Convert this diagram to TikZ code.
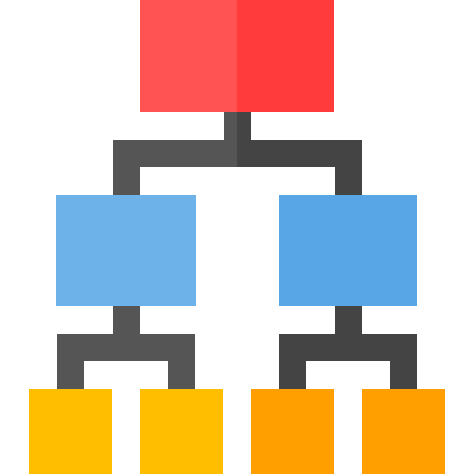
\documentclass[tikz,border=0pt]{standalone}
\usepackage{tikz}
\usetikzlibrary{positioning}
\definecolor{redlight}{HTML}{FF5252}
\definecolor{reddark}{HTML}{FF3B3B}
\definecolor{bluelight}{HTML}{6DB3EA}
\definecolor{bluedark}{HTML}{58A6E5}
\definecolor{yellowtile}{HTML}{FFBF00}
\definecolor{orangetile}{HTML}{FFA000}
\definecolor{graylight}{HTML}{555555}
\definecolor{graydark}{HTML}{444444}

\begin{document}
\begin{tikzpicture}[
    box/.style={inner sep=0pt, outer sep=0pt, minimum height=2.22cm},
    toptile/.style={inner sep=0pt, outer sep=0pt, minimum width=1.94cm, minimum height=2.24cm},
    leaf/.style={inner sep=0pt, outer sep=0pt, minimum width=1.66cm, minimum height=1.70cm},
    wire/.style={line width=0.54cm, line join=miter}
]

\useasboundingbox[fill=white] (0,0) rectangle (9.48,9.48);

% Top level
\node[toptile, fill=redlight] (rootl) at (3.77,8.36) {};
\node[toptile, fill=reddark, right=0cm of rootl] (rootr) {};

% Middle level
\node[box, fill=bluelight, minimum width=2.80cm] (left) at (2.52,4.47) {};
\node[box, fill=bluedark, minimum width=2.76cm, right=1.66cm of left] (right) {};

% Bottom level
\node[leaf, fill=yellowtile] (leafa) at (1.41,0.85) {};
\node[leaf, fill=yellowtile, right=0.56cm of leafa] (leafb) {};
\node[leaf, fill=orangetile, right=0.56cm of leafb] (leafc) {};
\node[leaf, fill=orangetile, right=0.56cm of leafc] (leafd) {};

% Connections
\begin{scope}
\clip (0,0) rectangle (4.74,9.48);
\draw[wire, graylight] (rootl.south east) -- ++(0,-0.83) -| (left.north);
\end{scope}
\begin{scope}
\clip (4.74,0) rectangle (9.48,9.48);
\draw[wire, graydark] (rootl.south east) -- ++(0,-0.83) -| (right.north);
\end{scope}

\draw[wire, graylight] (left.south) -- ++(0,-0.83) -| (leafa.north);
\draw[wire, graylight] (left.south) -- ++(0,-0.83) -| (leafb.north);
\draw[wire, graydark] (right.south) -- ++(0,-0.83) -| (leafc.north);
\draw[wire, graydark] (right.south) -- ++(0,-0.83) -| (leafd.north);

\end{tikzpicture}
\end{document}
